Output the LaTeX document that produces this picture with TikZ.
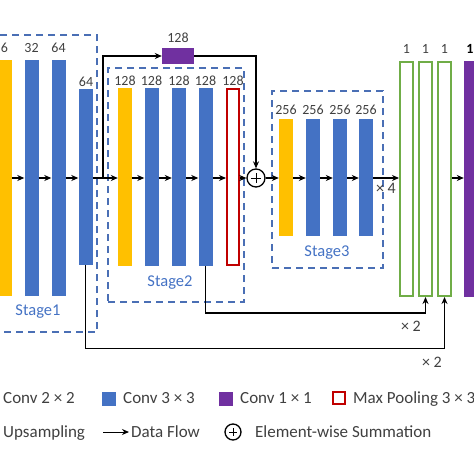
\documentclass[tikz,border=0pt]{standalone}
\usepackage{fontspec}
\setmainfont{Carlito}
\usetikzlibrary{arrows.meta}
\definecolor{cy}{HTML}{FFC000}
\definecolor{cb}{HTML}{4472C4}
\definecolor{cp}{HTML}{7030A0}
\definecolor{cr}{HTML}{C00000}
\definecolor{cg}{HTML}{70AD47}
\definecolor{cd}{HTML}{4A6FB5}
\definecolor{ctx}{HTML}{404040}
\begin{document}
\begin{tikzpicture}[x=1pt,y=-1pt,
  bar/.style={rectangle,inner sep=0pt,minimum width=14pt,draw=none},
  ybar/.style={bar,fill=cy},
  bbar/.style={bar,fill=cb},
  pbar/.style={bar,fill=cp},
  rbar/.style={bar,draw=cr,line width=2pt,fill=white,minimum width=12pt},
  gbar/.style={bar,draw=cg,line width=2pt,minimum width=13pt},
  lbl/.style={inner sep=0pt,font=\fontsize{14}{16}\selectfont,text=ctx},
  flow/.style={-{Stealth[length=7pt,width=6pt]},line width=1.3pt},
  stagebox/.style={draw=cd,dash pattern=on 7pt off 5pt,line width=1.8pt},
  stagelbl/.style={inner sep=0pt,font=\fontsize{16.5}{19}\selectfont,text=cb},
  leg/.style={font=\fontsize{17}{20}\selectfont,inner sep=0pt,anchor=base west,text=ctx},
  mult/.style={inner sep=0pt,font=\fontsize{16}{19}\selectfont,text=ctx},
  sumc/.style={circle,draw,line width=1.3pt,inner sep=0pt,fill=white,
    path picture={
      \draw[line width=1pt] ([xshift=4pt]path picture bounding box.west) -- ([xshift=-4pt]path picture bounding box.east);
      \draw[line width=1pt] ([yshift=-4pt]path picture bounding box.north) -- ([yshift=4pt]path picture bounding box.south);}},
]
\useasboundingbox (0,0) rectangle (474,474);
\clip (0,0) rectangle (474,474);

% stage boxes
\node[stagebox,rectangle,inner sep=0pt,minimum width=117pt,minimum height=297pt] (st1) at (38.5,183.5) {};
\node[stagebox,rectangle,inner sep=0pt,minimum width=136pt,minimum height=234pt] (st2) at (176,185) {};
\node[stagebox,rectangle,inner sep=0pt,minimum width=111pt,minimum height=177pt] (st3) at (327.5,179.5) {};
\node[stagelbl] (st1l) at (38,312) {Stage1};
\node[stagelbl] (st2l) at (170,283) {Stage2};
\node[stagelbl] (st3l) at (327,253) {Stage3};

% stage 1 bars
\node[ybar,minimum height=236pt] (y1) at (5,178) {};
\node[bbar,minimum height=236pt] (b11) at (31.5,178) {};
\node[bbar,minimum height=236pt] (b12) at (58.5,178) {};
\node[bbar,minimum height=176pt] (b13) at (85.5,177) {};
\node[lbl] (ly1) at (4.5,48) {6};
\node[lbl] (lb11) at (31.5,48) {32};
\node[lbl] (lb12) at (58.5,48) {64};
\node[lbl] (lb13) at (86,82) {64};

% stage 2 bars
\node[ybar,minimum height=178pt] (y2) at (125,177) {};
\node[bbar,minimum height=178pt] (b21) at (151.5,177) {};
\node[bbar,minimum height=178pt] (b22) at (179,177) {};
\node[bbar,minimum height=178pt] (b23) at (205.5,177) {};
\node[rbar,minimum height=176pt] (mp) at (233,177) {};
\node[lbl] (ly2) at (125,81) {128};
\node[lbl] (lb21) at (151.5,81) {128};
\node[lbl] (lb22) at (179,81) {128};
\node[lbl] (lb23) at (205.5,81) {128};
\node[lbl] (lmp) at (233,81) {128};

% conv 1x1 skip
\node[pbar,minimum width=32pt,minimum height=16pt] (pc) at (178,56) {};
\node[lbl] (lpc) at (178,37.5) {128};
\node[sumc,minimum size=18pt] (sum) at (256,178) {};

% stage 3 bars
\node[ybar,minimum height=117pt] (y3) at (286,177.5) {};
\node[bbar,minimum height=117pt] (b31) at (313,177.5) {};
\node[bbar,minimum height=117pt] (b32) at (340,177.5) {};
\node[bbar,minimum height=117pt] (b33) at (366,177.5) {};
\node[lbl] (ly3) at (286,109.5) {256};
\node[lbl] (lb31) at (313,109.5) {256};
\node[lbl] (lb32) at (340,109.5) {256};
\node[lbl] (lb33) at (366,109.5) {256};

% upsampling bars
\node[gbar,minimum height=234pt] (g1) at (406.5,179) {};
\node[gbar,minimum height=234pt] (g2) at (425.5,179) {};
\node[gbar,minimum height=234pt] (g3) at (444.5,179) {};
\node[pbar,minimum height=236pt] (p) at (471,179) {};
\node[lbl] (lg1) at (406.5,49) {1};
\node[lbl] (lg2) at (425.5,49) {1};
\node[lbl] (lg3) at (444.5,49) {1};
\node[lbl,text=black] (lp) at (470,49) {\textbf{1}};

% data flow
\draw[flow] (y1.east |- 0,178) -- (b11.west |- 0,178);
\draw[flow] (b11.east |- 0,178) -- (b12.west |- 0,178);
\draw[flow] (b12.east |- 0,178) -- (b13.west |- 0,178);
\draw[flow] (b13.east |- 0,178) -- (y2.west |- 0,178);
\draw[flow] (y2.east |- 0,178) -- (b21.west |- 0,178);
\draw[flow] (b21.east |- 0,178) -- (b22.west |- 0,178);
\draw[flow] (b22.east |- 0,178) -- (b23.west |- 0,178);
\draw[flow] (b23.east |- 0,178) -- (mp.west |- 0,178);
\draw[flow] (mp.east |- 0,178) -- (sum.west);
\draw[flow] (sum.east) -- (y3.west |- 0,178);
\draw[flow] (y3.east |- 0,178) -- (b31.west |- 0,178);
\draw[flow] (b31.east |- 0,178) -- (b32.west |- 0,178);
\draw[flow] (b32.east |- 0,178) -- (b33.west |- 0,178);
\draw[flow] (b33.east |- 0,178) -- (g1.west |- 0,178);
\draw[flow] (g3.east |- 0,178) -- (p.west |- 0,178);
\node[mult] (x4) at (386,188) {× 4};

% skip over stage 2
\coordinate (sk) at (103,178);
\draw[flow] (sk) |- (pc.west);
\draw[flow] (pc.east) -| (sum.north);

% long skips
\coordinate (r2) at (0,313);
\coordinate (r1) at (0,348.5);
\draw[flow] (b23.south) |- (g2.south |- r2) -- (g2.south);
\draw[flow] (b13.south) |- (g3.south |- r1) -- (g3.south);
\node[mult] (x2a) at (411,326) {× 2};
\node[mult] (x2b) at (432,362) {× 2};

% legend
\node[leg] (l1) at (3,403) {Conv 2 × 2};
\node[bbar,minimum size=14pt] (q1) at (109,399) {};
\node[leg] (l2) at (123,403) {Conv 3 × 3};
\node[pbar,minimum size=14pt] (q2) at (226,399) {};
\node[leg] (l3) at (240,403) {Conv 1 × 1};
\node[rbar,minimum size=12pt] (q3) at (339,398) {};
\node[leg] (l4) at (353,403) {Max Pooling 3 × 3};
\node[leg] (l5) at (3,437) {Upsampling};
\coordinate (la1) at (103,432);
\coordinate (la2) at (129,432);
\draw[-{Stealth[length=7pt,width=6pt]},line width=1pt] (la1) -- (la2);
\node[leg] (l6) at (131,437) {Data Flow};
\node[sumc,minimum size=16pt] (q4) at (233,432) {};
\node[leg] (l7) at (255,437) {Element-wise Summation};
\end{tikzpicture}
\end{document}
